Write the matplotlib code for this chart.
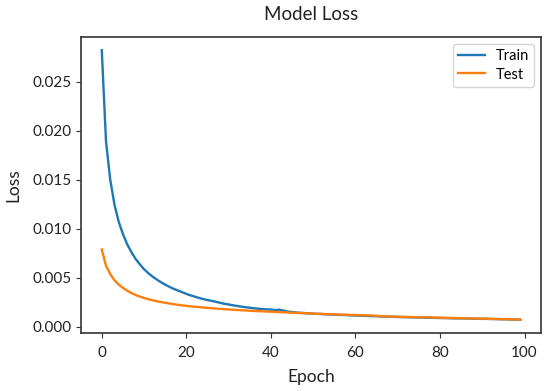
import matplotlib.pyplot as plt

# values
epochs = list(range(100))

train_loss = [
    0.02820, 0.01890, 0.01500, 0.01245, 0.01070, 0.00945, 0.00840, 0.00760, 0.00690, 0.00635,
    0.00585, 0.00545, 0.00510, 0.00480, 0.00452, 0.00428, 0.00405, 0.00385, 0.00368, 0.00350,
    0.00333, 0.00318, 0.00305, 0.00292, 0.00280, 0.00270, 0.00262, 0.00252, 0.00242, 0.00232,
    0.00225, 0.00217, 0.00210, 0.00203, 0.00197, 0.00192, 0.00186, 0.00182, 0.00178, 0.00175,
    0.00173, 0.00168, 0.00172, 0.00162, 0.00152, 0.00148, 0.00143, 0.00140, 0.00137, 0.00134,
    0.00131, 0.00129, 0.00127, 0.00125, 0.00123, 0.00121, 0.00119, 0.00118, 0.00116, 0.00114,
    0.00112, 0.00111, 0.00109, 0.00108, 0.00106, 0.00105, 0.00103, 0.00101, 0.00100, 0.00099,
    0.00097, 0.00096, 0.00095, 0.00094, 0.00093, 0.00092, 0.00091, 0.00090, 0.00089, 0.00088,
    0.00087, 0.00086, 0.00085, 0.00084, 0.00083, 0.00083, 0.00082, 0.00081, 0.00080, 0.00079,
    0.00078, 0.00078, 0.00077, 0.00076, 0.00075, 0.00074, 0.00073, 0.00072, 0.00071, 0.00070,
]

test_loss = [
    0.00786, 0.00620, 0.00535, 0.00472, 0.00428, 0.00395, 0.00366, 0.00342, 0.00322, 0.00305,
    0.00291, 0.00279, 0.00268, 0.00258, 0.00250, 0.00242, 0.00235, 0.00228, 0.00222, 0.00216,
    0.00211, 0.00206, 0.00202, 0.00198, 0.00194, 0.00190, 0.00187, 0.00183, 0.00180, 0.00177,
    0.00174, 0.00171, 0.00169, 0.00166, 0.00164, 0.00161, 0.00159, 0.00157, 0.00155, 0.00153,
    0.00151, 0.00149, 0.00147, 0.00145, 0.00143, 0.00141, 0.00139, 0.00138, 0.00136, 0.00134,
    0.00132, 0.00130, 0.00129, 0.00127, 0.00126, 0.00124, 0.00123, 0.00121, 0.00120, 0.00118,
    0.00117, 0.00116, 0.00114, 0.00113, 0.00112, 0.00110, 0.00105, 0.00104, 0.00102, 0.00101,
    0.00100, 0.00099, 0.00098, 0.00097, 0.00096, 0.00095, 0.00094, 0.00093, 0.00092, 0.00091,
    0.00090, 0.00089, 0.00088, 0.00087, 0.00086, 0.00085, 0.00084, 0.00083, 0.00082, 0.00081,
    0.00080, 0.00079, 0.00078, 0.00077, 0.00076, 0.00075, 0.00074, 0.00073, 0.00072, 0.00070,
]

plt.rcParams['font.family'] = ['Lato', 'DejaVu Sans']

fig = plt.figure(figsize=(5.5, 3.91), dpi=100)
ax = fig.add_axes([0.147, 0.148, 0.837, 0.758])

ax.plot(epochs, train_loss, color='#1f77b4', lw=1.7, label='Train')
ax.plot(epochs, test_loss, color='#ff7f0e', lw=1.7, label='Test')

ax.set_title('Model Loss', fontsize=13.5, color='#222222', pad=12)
ax.set_xlabel('Epoch', fontsize=12.5, color='#222222', labelpad=6)
ax.set_ylabel('Loss', fontsize=12.5, color='#222222', labelpad=8)
ax.set_xticks([0, 20, 40, 60, 80, 100])
ax.set_yticks([0.0, 0.005, 0.010, 0.015, 0.020, 0.025])
ax.tick_params(labelsize=11, colors='#333333', labelcolor='#222222')
ax.tick_params(axis='x', pad=6)
for s in ax.spines.values():
    s.set_color('#333333')
    s.set_linewidth(1.2)

ax.legend(loc='upper right', fontsize=10.5, handlelength=1.9, handletextpad=0.7,
          labelspacing=0.3, borderpad=0.35, borderaxespad=0.5)

fig.savefig('out.png', dpi=100)
